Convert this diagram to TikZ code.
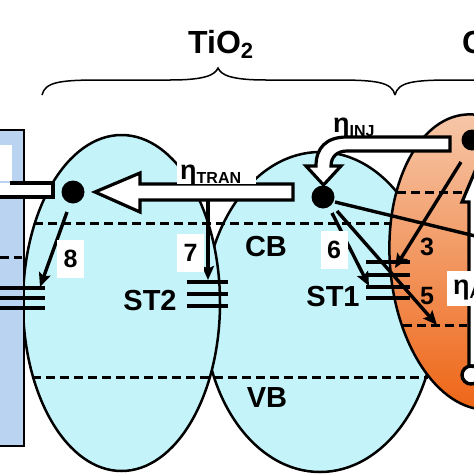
\documentclass[tikz,border=0pt]{standalone}
\usepackage{fontspec}
\setmainfont{Liberation Sans}
\usetikzlibrary{arrows.meta}
\definecolor{cyanfill}{RGB}{196,244,250}
\definecolor{rectfill}{RGB}{186,211,240}
\definecolor{otop}{RGB}{246,200,170}
\definecolor{omid}{RGB}{243,145,85}
\definecolor{obot}{RGB}{238,100,20}
\newcommand\etalbl[1]{{\fontsize{27}{27}\selectfont\bfseries η}\raisebox{-4pt}{\fontsize{16}{16}\selectfont\bfseries #1}}
\begin{document}
\begin{tikzpicture}[x=1pt,y=-1pt,
  edge/.style={line width=2.5pt},
  lev/.style={line width=3pt, dash pattern=on 9pt off 5pt},
  trap/.style={line width=3.6pt},
  arr/.style={line width=3.4pt, -{Stealth[length=14pt,width=12pt,inset=2.5pt]}},
  hollow/.style={line width=3.2pt, fill=white, line join=miter},
  dot/.style={circle, fill=black, inner sep=0pt, minimum size=23pt},
  big/.style={font=\fontsize{29}{29}\selectfont\bfseries, inner sep=0pt},
  num/.style={font=\fontsize{25}{25}\selectfont\bfseries, inner sep=0pt},
  numbox/.style={num, fill=white, minimum width=27pt, minimum height=38pt},
]
\useasboundingbox (0,0) rectangle (474,474);
\clip (0,0) rectangle (474,474);
% particles
\draw[edge, fill=cyanfill] (320,312) ellipse [x radius=116pt, y radius=160pt];
\draw[edge, fill=cyanfill] (121.5,303) ellipse [x radius=98.5pt, y radius=168pt];
\shade[top color=otop, middle color=omid, bottom color=obot, rotate around={5:(478,262)}] (478,262) ellipse [x radius=88pt, y radius=148pt];
\draw[edge, rotate around={5:(478,262)}] (478,262) ellipse [x radius=88pt, y radius=148pt];
% electrode
\draw[line width=2.8pt, fill=rectfill] (-10,130) rectangle (24,446);
\fill[white] (-5,145) rectangle (12,181);
% levels
\draw[lev] (34,223) -- (391,223);
\draw[lev] (0,257) -- (22,257);
\draw[lev] (32,377) -- (428,377);
\draw[lev] (397,192) -- (462,192);
\draw[lev] (403,325) -- (467,325);
% traps
\foreach \y in {288,298,308} \draw[trap] (0,\y) -- (45,\y);
\foreach \y in {282,294,306} \draw[trap] (187,\y) -- (228,\y);
\foreach \y in {262,275,287,298} \draw[trap] (366,\y) -- (410,\y);
% hollow arrows
\draw[hollow] (469,366) -- (469,202) -- (462,202) -- (484,150) -- (506,202) -- (499,202) -- (499,366) -- cycle;
\draw[hollow] (450,137) -- (347,137) .. controls (326,137) and (316,148) .. (316,166) -- (306,166) -- (323.5,185) -- (341,166) -- (331,166) .. controls (331,157) and (337,151) .. (347,151) -- (450,151) -- cycle;
\draw[hollow] (293,184) -- (140,184) -- (140,173) -- (95,192) -- (140,212) -- (140,200) -- (293,200) -- cycle;
\fill[white] (-5,183) rectangle (53,197);
\draw[line width=3.2pt, line join=miter] (10,183) -- (53,183) -- (53,197) -- (-5,197);
% electrons and hole
\node[dot] (dotL) at (73,192) {};
\node[dot] (dotR) at (323,197) {};
\node[dot, minimum size=21pt] (dotO) at (472,140) {};
\node[circle, draw=black, line width=3.4pt, fill=white, minimum size=18pt, inner sep=0pt] (hole) at (471,375) {};
% transfer arrows
\coordinate (a8s) at (67,212); \coordinate (a8e) at (40,287);
\coordinate (a7s) at (208,200); \coordinate (a7e) at (208,280);
\coordinate (a6s) at (332,213); \coordinate (a6e) at (369,286);
\coordinate (a5s) at (337,211); \coordinate (a5e) at (437,325);
\coordinate (a3s) at (461,162); \coordinate (a3e) at (395,268);
\coordinate (a4s) at (335,202); \coordinate (a4e) at (500,242);
\draw[arr] (a8s) -- (a8e);
\draw[arr] (a7s) -- (a7e);
\draw[arr] (a6s) -- (a6e);
\draw[arr] (a5s) -- (a5e);
\draw[arr] (a3s) -- (a3e);
\draw[line width=3.4pt] (a4s) -- (a4e);
% labels
\node[numbox] (l8) at (70.5,258.5) {8};
\node[numbox] (l7) at (190.5,253) {7};
\node[numbox] (l6) at (334,250) {6};
\node[num] (l3) at (427,247) {3};
\node[num] (l5) at (427,296) {5};
\node[big] (cb) at (266,247) {CB};
\node[big] (vb) at (267,398) {VB};
\node[big] (st2) at (150,301) {ST2};
\node[big] (st1) at (333,297) {ST1};
\fill[white] (177,160) rectangle (256,184);
\node[anchor=base west, inner sep=0pt] (tran) at (180,179) {\etalbl{TRAN}};
\node[anchor=base west, inner sep=0pt] (inj) at (333,132) {\etalbl{INJ}};
\fill[white] (447,271) rectangle (480,306);
\node[anchor=base west, inner sep=0pt] (abs) at (453,294) {\etalbl{A}};
% braces
\draw[line width=1.5pt] (42,95) .. controls (45,82) and (60,80) .. (100,80) -- (170,80) .. controls (205,80) and (215,75) .. (218,68) .. controls (221,75) and (231,80) .. (266,80) -- (336,80) .. controls (376,80) and (392,82) .. (395,95);
\draw[line width=1.5pt] (395,95) .. controls (398,82) and (413,80) .. (453,80) -- (480,80);
\node[anchor=base west, inner sep=0pt, font=\fontsize{32}{32}\selectfont\bfseries] (tio) at (188,53) {TiO\raisebox{-5pt}{\fontsize{22}{22}\selectfont 2}};
\node[anchor=base west, inner sep=0pt, font=\fontsize{32}{32}\selectfont\bfseries] (cc) at (462,53) {C};
\end{tikzpicture}
\end{document}
